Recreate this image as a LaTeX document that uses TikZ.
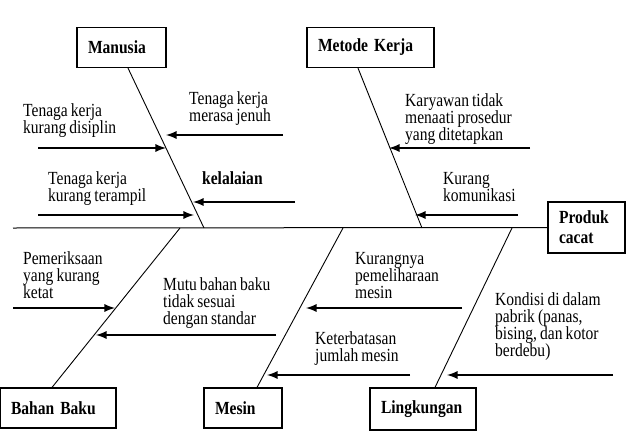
\documentclass[tikz,border=0pt]{standalone}
\usepackage{fontspec}
\setmainfont{Liberation Serif}[FakeStretch=0.84,WordSpace=0.8]
\usetikzlibrary{calc,arrows}

\begin{document}
\begin{tikzpicture}[x=1pt,y=-1pt,
  kotak/.style={draw,line width=1.2pt,font=\fontsize{18.5}{20}\selectfont\bfseries,align=left,inner xsep=11pt,inner ysep=0pt},
  tulang/.style={line width=0.9pt},
  panah/.style={-latex,line width=2.6pt},
  ket/.style={anchor=north west,inner sep=0pt,align=left,font=\fontsize{18.5}{17}\selectfont}]
\useasboundingbox (0,0) rectangle (626,431);
% kepala ikan
\node[kotak,text width=55pt,minimum height=51pt](produk)at(586.5,227.5){Produk\\cacat};
\coordinate (ekor) at (13,228);
\draw[line width=1pt](ekor)--(produk.west);
% kategori
\node[kotak,text width=67pt,minimum height=40pt](manusia)at(121.5,47.5){Manusia};
\node[kotak,text width=105pt,minimum height=40pt](metode)at(370.5,47.5){Metode Kerja};
\node[kotak,text width=94pt,minimum height=40pt](bahan)at(58,408){Bahan Baku};
\node[kotak,text width=56pt,minimum height=40pt](mesin)at(243,408){Mesin};
\node[kotak,text width=84pt,minimum height=42pt](ling)at(423,409){Lingkungan};
% tulang
\coordinate (jm) at (204,228);
\coordinate (jk) at (422,228);
\coordinate (jb) at (180,228);
\coordinate (js) at (343,228);
\coordinate (jl) at (512,228);
\draw[tulang]([xshift=6.5pt]manusia.south)--(jm);
\draw[tulang]([xshift=-12.5pt]metode.south)--(jk);
\draw[tulang]([xshift=-6pt]bahan.north)--(jb);
\draw[tulang]([xshift=14pt]mesin.north)--(js);
\draw[tulang]([xshift=12pt]ling.north)--(jl);
% sebab
\node[ket](t1)at(23,103){Tenaga kerja\\kurang disiplin};
\node[ket](t2)at(189,91){Tenaga kerja\\merasa jenuh};
\node[ket](t3)at(48,171){Tenaga kerja\\kurang terampil};
\node[ket,font=\fontsize{18.5}{17}\selectfont\bfseries](t4)at(202,171){kelalaian};
\node[ket](t5)at(405,93){Karyawan tidak\\menaati prosedur\\yang ditetapkan};
\node[ket](t6)at(443,172){Kurang\\komunikasi};
\node[ket](t7)at(23,251){Pemeriksaan\\yang kurang\\ketat};
\node[ket](t8)at(163,277){Mutu bahan baku\\tidak sesuai\\dengan standar};
\node[ket](t9)at(355,252){Kurangnya\\pemeliharaan\\mesin};
\node[ket](t10)at(315,331){Keterbatasan\\jumlah mesin};
\node[ket](t11)at(495,292){Kondisi di dalam\\pabrik (panas,\\bising, dan kotor\\berdebu)};
% panah
\coordinate (a1) at (38,148);  \coordinate (b1) at (166,148);
\coordinate (a2) at (283,135); \coordinate (b2) at (166,135);
\coordinate (a3) at (38,215);  \coordinate (b3) at (194,215);
\coordinate (a4) at (295,202); \coordinate (b4) at (193,202);
\coordinate (a5) at (530,148); \coordinate (b5) at (389,148);
\coordinate (a6) at (518,215); \coordinate (b6) at (415,215);
\coordinate (a7) at (13,308);  \coordinate (b7) at (115,308);
\coordinate (a8) at (276,335); \coordinate (b8) at (96,335);
\coordinate (a9) at (462,308); \coordinate (b9) at (306,308);
\coordinate (a10) at (410,375); \coordinate (b10) at (267,375);
\coordinate (a11) at (613,375); \coordinate (b11) at (447,375);
\draw[panah](a1)--(b1);
\draw[panah](a2)--(b2);
\draw[panah](a3)--(b3);
\draw[panah](a4)--(b4);
\draw[panah](a5)--(b5);
\draw[panah](a6)--(b6);
\draw[panah](a7)--(b7);
\draw[panah](a8)--(b8);
\draw[panah](a9)--(b9);
\draw[panah](a10)--(b10);
\draw[panah](a11)--(b11);
\end{tikzpicture}
\end{document}
